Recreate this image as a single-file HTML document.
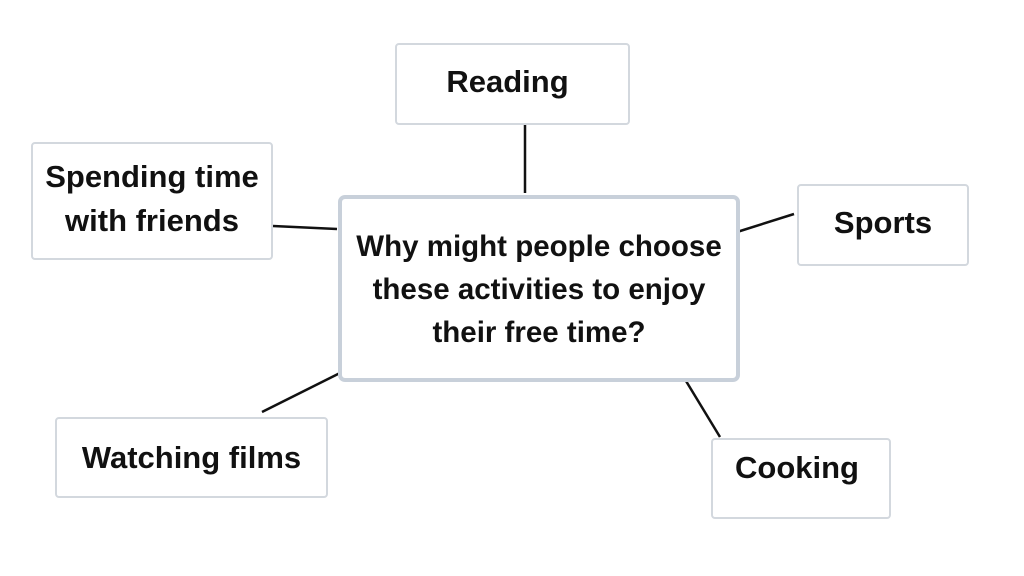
<!DOCTYPE html>
<html><head><style>
html,body{margin:0;padding:0;background:#fff;width:1024px;height:576px;overflow:hidden}
.b{position:absolute;box-sizing:border-box;border:2px solid #d3d8de;border-radius:4px;background:#fff;display:flex;align-items:center;justify-content:center;text-align:center;font-family:"Liberation Sans",sans-serif;font-weight:bold;color:#111;font-size:31px;line-height:44px;white-space:nowrap}
.c{border:4px solid #c8d0da;border-radius:7px;line-height:43px;font-size:29.5px}
svg{position:absolute;left:0;top:0}
</style></head><body>
<svg width="1024" height="576">
<g stroke="#111" stroke-width="2.5">
<line x1="525" y1="125" x2="525" y2="193"/>
<line x1="273" y1="226" x2="337" y2="229"/>
<line x1="737" y1="232" x2="794" y2="214"/>
<line x1="262" y1="412" x2="340" y2="373"/>
<line x1="686" y1="381" x2="720" y2="437"/>
</g>
</svg>
<div class="b" style="left:395px;top:43px;width:235px;height:82px;padding-bottom:4px;padding-right:10px">Reading</div>
<div class="b" style="left:31px;top:142px;width:242px;height:118px;padding-bottom:4px">Spending time<br>with friends</div>
<div class="b" style="left:797px;top:184px;width:172px;height:82px;padding-bottom:4px">Sports</div>
<div class="b" style="left:55px;top:417px;width:273px;height:81px">Watching films</div>
<div class="b" style="left:711px;top:438px;width:180px;height:81px;padding-bottom:22px;padding-right:8px">Cooking</div>
<div class="b c" style="left:338px;top:195px;width:402px;height:187px;padding-top:2px">Why might people choose<br>these activities to enjoy<br>their free time?</div>
</body></html>
